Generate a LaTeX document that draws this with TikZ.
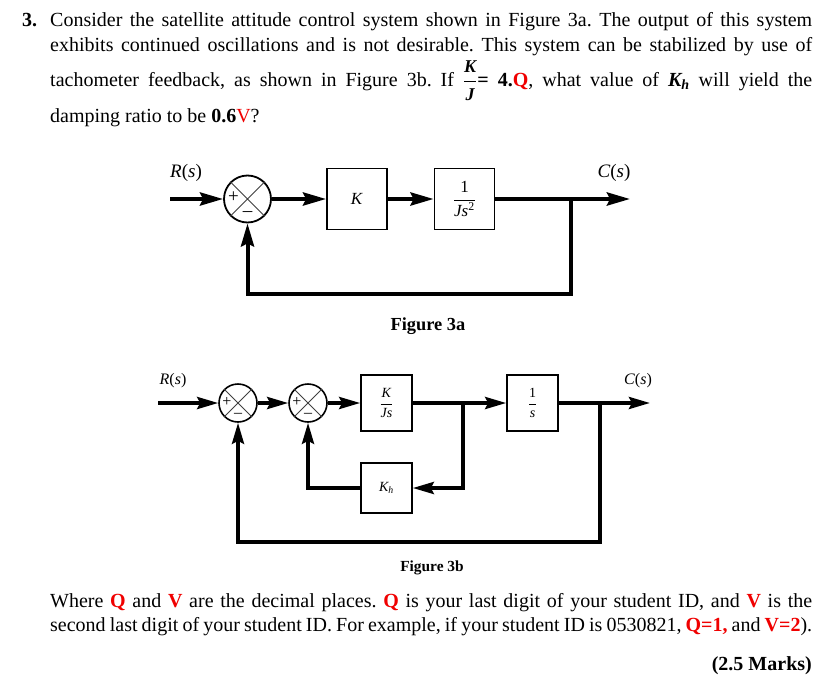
\documentclass[tikz,border=0pt]{standalone}
\usepackage{fontspec}
\setmainfont{Liberation Serif}
\usepackage{amsmath}
\usetikzlibrary{arrows.meta}
\definecolor{qred}{RGB}{240,0,0}
\frenchspacing
\newcommand{\blkfrac}[2]{$\genfrac{}{}{0.6pt}{0}{\mbox{#1}}{\mbox{#2}}$}
\newcommand{\redb}[1]{\textcolor{qred}{\textbf{#1}}}
\newcommand{\ofs}[1]{\textit{#1}(\textit{s})}

\begin{document}
\begin{tikzpicture}[x=1pt, y=-1pt,
    txt/.style={anchor=base west, inner sep=0pt, font=\fontsize{20}{24}\selectfont},
    wireA/.style={line width=4pt},
    sigA/.style={wireA, -{Stealth[length=23pt, width=13pt, inset=3pt]}},
    wireB/.style={line width=3.6pt},
    sigB/.style={wireB, -{Stealth[length=21pt, width=12pt, inset=3pt]}},
    blkA/.style={draw, line width=1.8pt, minimum width=60pt, minimum height=61pt, inner sep=0pt, font=\fontsize{17}{20}\selectfont},
    blkB/.style={draw, line width=1.6pt, minimum width=51pt, minimum height=56pt, inner sep=0pt, font=\fontsize{14}{17}\selectfont},
    sumA/.style={circle, draw, line width=1.8pt, minimum size=47pt, inner sep=0pt},
    sumB/.style={circle, draw, line width=1.6pt, minimum size=38pt, inner sep=0pt},
    cross/.style={line width=0.9pt, black!75},
    sgnA/.style={inner sep=0pt, font=\fontsize{19}{19}\selectfont},
    sgnB/.style={inner sep=0pt, font=\fontsize{16}{16}\selectfont},
    lblA/.style={inner sep=0pt, font=\fontsize{19}{22}\selectfont},
    lblB/.style={inner sep=0pt, font=\fontsize{16}{19}\selectfont},
    figlbl/.style={anchor=base, inner sep=0pt, font=\bfseries}]
    \fill[white] (0,0) rectangle (840,693);
    \useasboundingbox (0,0) rectangle (840,693);

    % Question text
    \node[txt] (qno) at (22,26.7) {\textbf{3.}};
    \node[txt] (ln1) at (50,26.7) {\makebox[762pt][s]{Consider the satellite attitude control system shown in Figure 3a. The output of this system}};
    \node[txt] (ln2) at (50,51.7) {\makebox[762pt][s]{exhibits continued oscillations and is not desirable. This system can be stabilized by use of}};
    \node[txt] (ln3) at (50,86.7) {\makebox[762pt][s]{tachometer feedback, as shown in Figure 3b. If \blkfrac{\fontsize{18}{20}\selectfont\bfseries\itshape K}{\fontsize{18}{20}\selectfont\bfseries\itshape J}\textbf{= 4.}\redb{Q}, what value of \textbf{\textit{K\textsubscript{h}}} will yield the}};
    \node[txt] (ln4) at (50,122) {damping ratio to be \textbf{0.6}\textcolor{qred}{V}?};

    % Figure 3a
    \node[lblA] (r1) at (186,173) {\ofs{R}};
    \node[lblA] (c1) at (614,173) {\ofs{C}};
    \coordinate (in1) at (170,199);
    \node[sumA] (s1) at (247.5,199) {};
    \draw[cross] (s1.north west) -- (s1.south east) (s1.north east) -- (s1.south west);
    \node[sgnA] at (233.5,197.5) {+};
    \node[sgnA] at (247.5,214) {--};
    \node[blkA] (k1) at (357,199) {\textit{K}};
    \node[blkA] (g1) at (464.5,199) {\blkfrac{1}{\textit{Js}\textsuperscript{2}}};
    \coordinate (b1) at (571,199);
    \coordinate (o1) at (630,199);
    \draw[sigA] (in1) -- (s1);
    \draw[sigA] (s1) -- (k1);
    \draw[sigA] (k1) -- (g1);
    \draw[wireA] (g1) -- (b1);
    \draw[sigA] (b1) -- (o1);
    \draw[sigA] (b1) -- ++(0,95) -| (s1.south);
    \node[figlbl, font=\fontsize{18.4}{20}\selectfont\bfseries] (f3a) at (428,330) {Figure 3a};

    % Figure 3b
    \node[lblB] (r2) at (173,381) {\ofs{R}};
    \node[lblB] (c2) at (638,381) {\ofs{C}};
    \coordinate (in2) at (158,403);
    \node[sumB] (s2) at (238,403) {};
    \node[sumB] (s3) at (308,403) {};
    \foreach \s in {s2,s3} {
        \draw[cross] (\s.north west) -- (\s.south east) (\s.north east) -- (\s.south west);
        \node[sgnB] at ([xshift=-11pt,yshift=1pt]\s.center) {+};
        \node[sgnB] at ([yshift=-12pt]\s.center) {--};
    }
    \node[blkB] (k2) at (386.5,403) {\blkfrac{\textit{K}}{\textit{Js}}};
    \node[blkB] (g2) at (532.5,403) {\blkfrac{1}{\textit{s}}};
    \node[blkB, minimum height=50pt] (h2) at (386.5,488) {\textit{K\textsubscript{h}}};
    \coordinate (b2) at (463,403);
    \coordinate (b3) at (600,403);
    \coordinate (o2) at (650,403);
    \draw[sigB] (in2) -- (s2);
    \draw[sigB] (s2) -- (s3);
    \draw[sigB] (s3) -- (k2);
    \draw[sigB] (k2) -- (g2);
    \draw[wireB] (g2) -- (b3);
    \draw[sigB] (b3) -- (o2);
    \draw[sigB] (b2) |- (h2.east);
    \draw[sigB] (h2.west) -| (s3.south);
    \draw[sigB] (b3) -- ++(0,139) -| (s2.south);
    \node[figlbl, font=\fontsize{15.4}{18}\selectfont\bfseries] (f3b) at (432,571) {Figure 3b};

    % Footnote text
    \node[txt] (ln5) at (50,607.7) {\makebox[762pt][s]{Where \redb{Q} and \redb{V} are the decimal places. \redb{Q} is your last digit of your student ID, and \redb{V} is the}};
    \node[txt] (ln6) at (50,631.7) {\makebox[762pt][s]{second last digit of your student ID. For example, if your student ID is 0530821, \redb{Q=1,} and \redb{V=2}).}};
    \node[txt, anchor=base east] (mks) at (812,670) {\textbf{(2.5 Marks)}};
\end{tikzpicture}
\end{document}
